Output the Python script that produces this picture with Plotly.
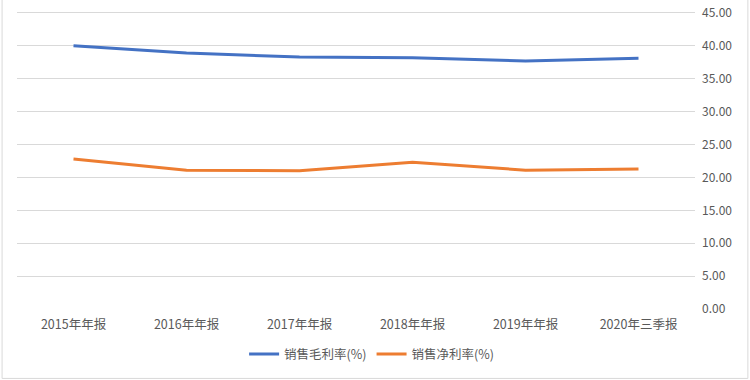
import plotly.graph_objects as go

categories = ["2015年年报", "2016年年报", "2017年年报", "2018年年报", "2019年年报", "2020年三季报"]
gross_margin = [40.0, 38.9, 38.3, 38.2, 37.7, 38.1]
net_margin = [22.8, 21.1, 21.0, 22.3, 21.1, 21.3]
y_ticks = [0, 5, 10, 15, 20, 25, 30, 35, 40, 45]

font_family = "Noto Sans CJK SC, Noto Sans, sans-serif"
text_color = "#595959"

fig = go.Figure()
fig.add_trace(go.Scatter(x=categories, y=gross_margin, mode="lines", name="销售毛利率(%)",
                         line=dict(color="#4472C4", width=3)))
fig.add_trace(go.Scatter(x=categories, y=net_margin, mode="lines", name="销售净利率(%)",
                         line=dict(color="#ED7D31", width=3)))

fig.update_layout(
    width=750, height=380,
    margin=dict(l=17, r=55, t=11, b=71, autoexpand=False),
    paper_bgcolor="white", plot_bgcolor="white",
    font=dict(family=font_family, color=text_color, size=12),
    showlegend=True,
    legend=dict(orientation="h", x=0.523, xanchor="center", y=-0.152, yanchor="middle",
                font=dict(size=12.5, color=text_color), tracegroupgap=0),
    xaxis=dict(range=[-0.5, 5.5], showgrid=False, showline=False, zeroline=False, ticks="",
               tickfont=dict(size=12.5, color=text_color), ticklabelstandoff=6,
               automargin=False),
    yaxis=dict(side="right", range=[0, 45.3], tickvals=y_ticks,
               ticktext=[f"{v:.2f}" for v in y_ticks],
               showgrid=True, gridcolor="#D9D9D9", gridwidth=1.3, zeroline=False,
               showline=False, ticks="", tickfont=dict(size=12, color=text_color),
               ticklabelstandoff=6, automargin=False, ticklabeloverflow="allow"),
    shapes=[dict(type="rect", xref="paper", yref="paper",
                 x0=-0.022, x1=1.078, y0=-0.233, y1=1.2,
                 line=dict(color="#D9D9D9", width=1), fillcolor="rgba(0,0,0,0)", layer="below")],
)

fig.write_html("out.html", config={"displayModeBar": False},
               post_script="document.body.style.margin='0';document.body.style.overflow='hidden';")
